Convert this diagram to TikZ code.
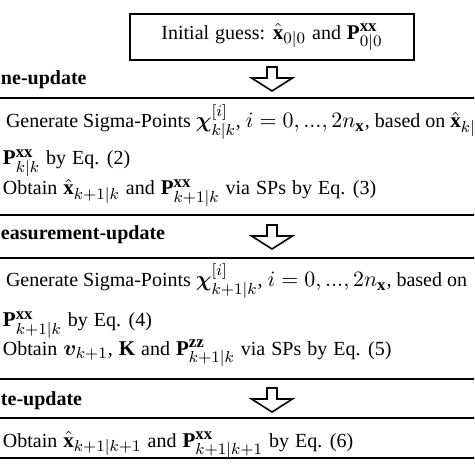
\documentclass[tikz,border=0pt]{standalone}
\usepackage{fontspec}
\setmainfont{Liberation Serif}
\usepackage{bm}
\DeclareMathSizes{10}{10.5}{8.4}{6.5}
\newcommand\widespace{\spaceskip=0.3em\relax}
\begin{document}
\begin{tikzpicture}[x=0.5pt,y=-0.5pt,line width=1pt,
  font=\fontsize{10}{12}\selectfont\widespace,
  txt/.style={anchor=base west,inner sep=0pt},
  tight/.style={txt,font=\fontsize{10}{12}\selectfont},
  head/.style={txt,font=\fontsize{10}{12}\selectfont\bfseries},
  guess/.style={draw,minimum width=142pt,minimum height=23pt,inner sep=0pt},
  hollow down/.pic={\draw[line width=0.8pt,line join=miter]
    (-5,0) -- (5,0) -- (5,11) -- (20.5,11) -- (0,24) -- (-20.5,11) -- (-5,11) -- cycle;}]

  \useasboundingbox (0,0) rectangle (474,474);
  \clip (0,0) rectangle (474,474);

  \node[guess] (init) at (272,37) {Initial guess: $\hat{\mathbf{x}}_{0|0}$ and $\mathbf{P}^{\mathbf{xx}}_{0|0}$};
  \pic at (272,67) {hollow down};

  % time update
  \node[head] (hdtime) at (0,85) {ne-update};
  \draw (-10,98) rectangle (484,215);
  \node[tight] (sp1) at (5,128) {Generate Sigma-Points $\bm{\chi}^{[i]}_{k|k}$, $i = 0, ..., 2n_{\mathbf{x}}$, based on $\hat{\mathbf{x}}_{k|k}$ and};
  \node[txt] (pk1) at (2,165) {$\mathbf{P}^{\mathbf{xx}}_{k|k}$ by Eq. (2)};
  \node[txt] (obt1) at (2,195) {Obtain $\hat{\mathbf{x}}_{k+1|k}$ and $\mathbf{P}^{\mathbf{xx}}_{k+1|k}$ via SPs by Eq. (3)};
  \pic at (272,225) {hollow down};

  % measurement update
  \node[head] (hdmeas) at (0,240) {easurement-update};
  \draw (-10,258) rectangle (484,379);
  \node[tight] (sp2) at (5,287) {Generate Sigma-Points $\bm{\chi}^{[i]}_{k+1|k}$, $i = 0, ..., 2n_{\mathbf{x}}$, based on};
  \node[txt] (pk2) at (2,327) {$\mathbf{P}^{\mathbf{xx}}_{k+1|k}$ by Eq. (4)};
  \node[txt] (obt2) at (2,355) {Obtain $\bm{v}_{k+1}$, $\mathbf{K}$ and $\mathbf{P}^{\mathbf{zz}}_{k+1|k}$ via SPs by Eq. (5)};
  \pic at (272,388) {hollow down};

  % state update
  \node[head] (hdstate) at (0,405) {te-update};
  \draw (-10,418) rectangle (484,458);
  \node[txt] (obt3) at (2,447) {Obtain $\hat{\mathbf{x}}_{k+1|k+1}$ and $\mathbf{P}^{\mathbf{xx}}_{k+1|k+1}$ by Eq. (6)};
\end{tikzpicture}
\end{document}
